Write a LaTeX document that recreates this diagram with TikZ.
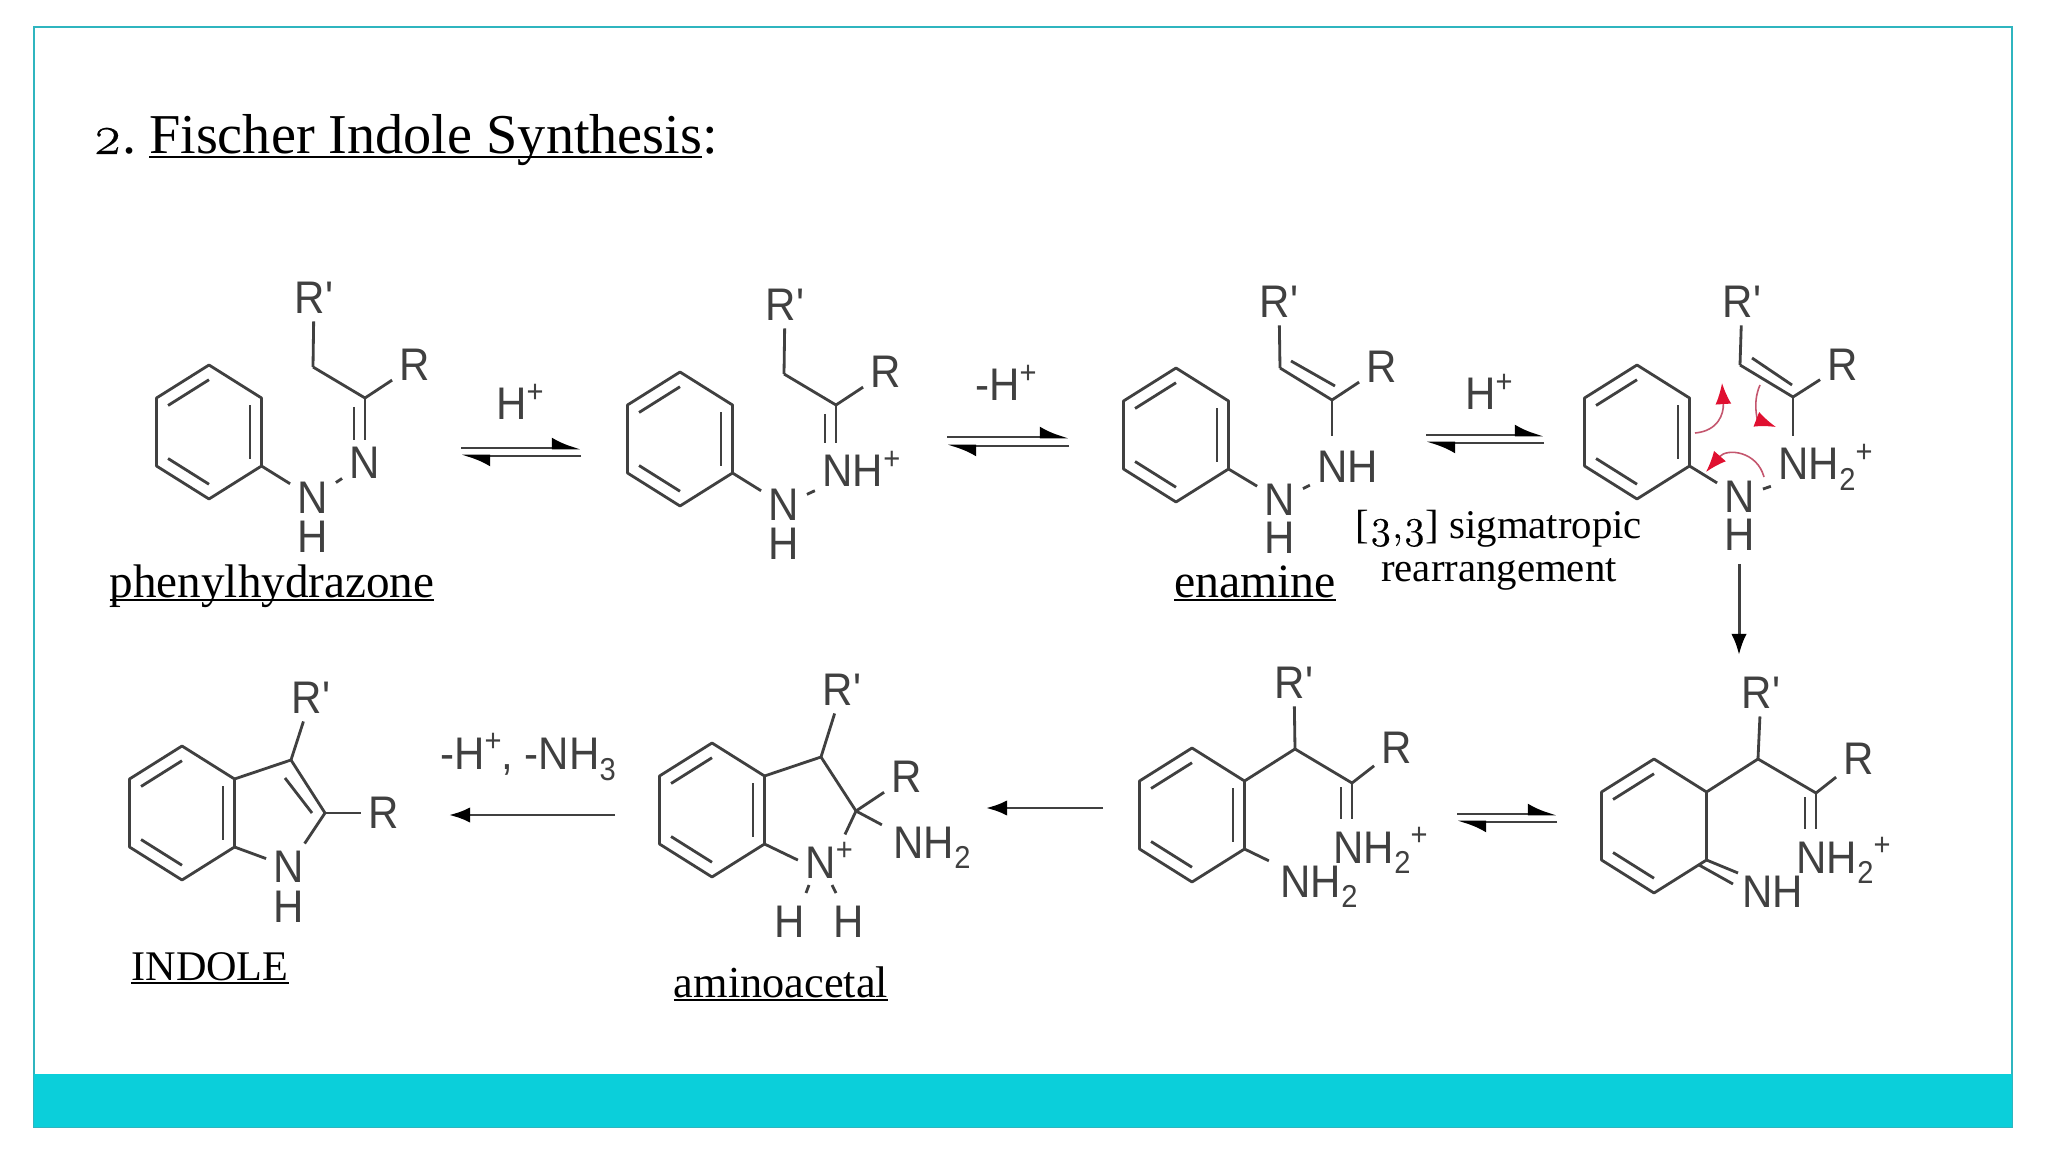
\documentclass[tikz,border=0pt]{standalone}
\usepackage{fontspec}
\setmainfont{Liberation Serif}
\newfontfamily\numfont[Numbers=OldStyle,FakeBold=0.3]{Latin Modern Roman}
\newfontfamily\chemfont[FakeStretch=0.92]{Liberation Sans}
\usepackage{tikz}
\usetikzlibrary{calc, positioning, arrows.meta}

\definecolor{framecol}{HTML}{2FB5BF}
\definecolor{barcol}{HTML}{0BCFDA}
\definecolor{bondcol}{HTML}{404040}
\definecolor{pushcol}{HTML}{C4566E}
\definecolor{tipcol}{HTML}{E01030}

\newcommand{\subt}[1]{\raisebox{-3pt}{\fontsize{9}{9}\selectfont #1}}
\newcommand{\supt}[1]{\raisebox{5pt}{\fontsize{9}{9}\selectfont #1}}
\newcommand{\ulword}[1]{\setbox0=\hbox{#1}\rlap{\rule[-1.2pt]{\wd0}{.6pt}}\box0}

\tikzset{
    atom/.style={font=\chemfont\fontsize{13}{14}\selectfont,text=bondcol,inner sep=2pt},
    atomleft/.style={atom,anchor=base west,xshift=-2.6pt},
    bond/.style={draw=bondcol,line width=.8pt,line join=round},
    reaction/.style={bondcol,line width=.85pt,-{Latex[length=6pt,width=4.4pt,black]}},
    eqfwd/.style={bondcol,line width=.75pt,-{Latex[length=7pt,width=6pt,harpoon,black]}},
    eqback/.style={bondcol,line width=.75pt,-{Latex[length=7pt,width=6pt,harpoon,black]}},
    pushing/.style={pushcol,line width=.45pt,-{Latex[length=6pt,width=4.5pt,tipcol]}},
    captiontext/.style={anchor=base,inner sep=0pt},
}

% ring: name, centre x, centre y
\newcommand{\benzring}[3]{
    \coordinate (#1o) at (#2,#3);
    \coordinate (#1a) at (#2,#3-67);
    \coordinate (#1b) at (#2+52.5,#3-34);
    \coordinate (#1c) at (#2+52.5,#3+34);
    \coordinate (#1d) at (#2,#3+67);
    \coordinate (#1e) at (#2-52.5,#3+34);
    \coordinate (#1f) at (#2-52.5,#3-34);
    \draw[bond] (#1a) -- (#1b) -- (#1c) -- (#1d) -- (#1e) -- (#1f) -- cycle;
    \draw[bond] ($(#1f)!.22!(#1o)$) -- ($(#1a)!.22!(#1o)$);
    \draw[bond] ($(#1e)!.22!(#1o)$) -- ($(#1d)!.22!(#1o)$);
}
\newcommand{\ringthird}[1]{
    \draw[bond] ($(#1b)!.22!(#1o)$) -- ($(#1c)!.22!(#1o)$);
}
% equilibrium arrows: name, left x, right x, upper y, lower y
\newcommand{\eqarrows}[5]{
    \coordinate (#1ul) at (#2,#4);
    \coordinate (#1ur) at (#3,#4);
    \coordinate (#1ll) at (#2,#5);
    \coordinate (#1lr) at (#3,#5);
    \draw[eqfwd] (#1ul) -- (#1ur);
    \draw[eqback] (#1lr) -- (#1ll);
}

\begin{document}
\begin{tikzpicture}[x=0.01cm,y=-0.01cm]
    \useasboundingbox (0,0) rectangle (2048,1152);
    \fill[white] (0,0) rectangle (2048,1152);

    % frame
    \coordinate (frameTL) at (34,27);
    \coordinate (frameBR) at (2012,1127);
    \coordinate (barTL) at (34,1074);
    \draw[framecol,line width=.6pt] (frameTL) rectangle (frameBR);
    \fill[barcol] (barTL) rectangle (frameBR);

    \node[font=\fontsize{16}{19}\selectfont,anchor=base west,inner sep=0pt](title) at (92,154){{\numfont 2}.\kern3.7pt\ulword{Fischer Indole Synthesis}:};

    % phenylhydrazone
    \benzring{ph}{209}{432}
    \ringthird{ph}
    \coordinate (phCa) at (313,367);
    \coordinate (phCb) at (365,398);
    \coordinate (phCc) at (354,407);
    \node[atom](phRp) at (314,298){R'};
    \node[atom](phR) at (415,365){R};
    \node[atom](phNa) at (365,463){N};
    \node[atom](phNb) at (313,498){N};
    \node[atom](phH) at (313,537){H};
    \path[bond]
    (phRp) edge (phCa)
    (phCa) edge (phCb)
    (phCb) edge (phR)
    (phCb) edge (phCb |- phNa.north)
    (phCc) edge (phCc |- phNa.north)
    (phc) edge (phNb)
    (phNb) edge (phNa);
    \node[captiontext,font=\fontsize{13.4}{15}\selectfont](phName) at (272,597){\ulword{phenylhydrazone}};

    % protonated
    \benzring{pr}{680}{439}
    \ringthird{pr}
    \coordinate (prCa) at (784,374);
    \coordinate (prCb) at (836,405);
    \coordinate (prCc) at (825,414);
    \node[atom](prRp) at (785,305){R'};
    \node[atom](prR) at (886,372){R};
    \node[atomleft](prNa) at (824,487){NH\supt{+}};
    \node[atom](prNb) at (784,505){N};
    \node[atom](prH) at (784,544){H};
    \path[bond]
    (prRp) edge (prCa)
    (prCa) edge (prCb)
    (prCb) edge (prR)
    (prCb) edge (prCb |- prNa.north)
    (prCc) edge (prCc |- prNa.north)
    (prc) edge (prNb)
    (prNb) edge (prNa);

    % enamine
    \benzring{en}{1176}{435}
    \ringthird{en}
    \coordinate (enCa) at (1280,368);
    \coordinate (enCb) at (1332,400);
    \coordinate (enCc) at (1291,361);
    \coordinate (enCd) at (1335,386);
    \node[atom](enRp) at (1279,302){R'};
    \node[atom](enR) at (1382,367){R};
    \node[atomleft](enNa) at (1319,482){NH};
    \node[atom](enNb) at (1280,500){N};
    \node[atom](enH) at (1280,538){H};
    \path[bond]
    (enRp) edge (enCa)
    (enCa) edge (enCb)
    (enCc) edge (enCd)
    (enCb) edge (enR)
    (enCb) edge ([yshift=2pt]enCb |- enNa.north)
    (enc) edge (enNb)
    (enNb) edge (enNa);
    \node[captiontext,font=\fontsize{13.6}{15}\selectfont](enName) at (1255,597){\ulword{enamine}};

    % before the rearrangement
    \benzring{sg}{1637}{432}
    \ringthird{sg}
    \coordinate (sgCa) at (1740,365);
    \coordinate (sgCb) at (1793,397);
    \coordinate (sgCc) at (1752,358);
    \coordinate (sgCd) at (1792,385);
    \node[atom](sgRp) at (1742,302){R'};
    \node[atom](sgR) at (1843,365){R};
    \node[atomleft](sgNa) at (1780,480){NH\subt{2}\supt{+}};
    \node[atom](sgNb) at (1740,497){N};
    \node[atom](sgH) at (1740,535){H};
    \path[bond]
    (sgRp) edge (sgCa)
    (sgCa) edge (sgCb)
    (sgCc) edge (sgCd)
    (sgCb) edge (sgR)
    (sgCb) edge (sgCb |- sgNa.north)
    (sgc) edge (sgNb)
    (sgNb) edge (sgNa);
    \coordinate (pushAa) at (1695,433);
    \coordinate (pushAb) at (1722,383);
    \coordinate (pushBa) at (1760,385);
    \coordinate (pushBb) at (1776,427);
    \coordinate (pushCa) at (1764,477);
    \coordinate (pushCb) at (1706,472);
    \draw[pushing] (pushAa) .. controls (1718,431) and (1724,414) .. (pushAb);
    \draw[pushing] (pushBa) .. controls (1752,403) and (1758,420) .. (pushBb);
    \draw[pushing] (pushCa) .. controls (1757,451) and (1727,448) .. (pushCb);

    \node[font=\fontsize{11.6}{12.3}\selectfont,align=center,inner sep=0pt](shift) at (1499,550){[{\numfont 3,3}] sigmatropic\\rearrangement};

    % second row, right to left
    \benzring{di}{1654}{826}
    \coordinate (diCa) at (1758,759);
    \coordinate (diCb) at (1816,793);
    \coordinate (diCc) at (1805,797);
    \coordinate (diDa) at (1733,884);
    \coordinate (diDb) at (1699,865);
    \coordinate (diDc) at (1738,873);
    \node[atom](diRp) at (1761,693){R'};
    \node[atom](diR) at (1859,759){R};
    \node[atomleft](diNa) at (1798,873){NH\subt{2}\supt{+}};
    \node[atomleft](diNb) at (1744,907){NH};
    \path[bond]
    (diRp) edge (diCa)
    (dib) edge (diCa)
    (diCa) edge (diCb)
    (diCb) edge (diR)
    (diCb) edge (diCb |- diNa.north)
    (diCc) edge (diCc |- diNa.north)
    (dic) edge (diDc)
    (diDb) edge (diDa);

    \benzring{an}{1192}{815}
    \ringthird{an}
    \coordinate (anCa) at (1295,749);
    \coordinate (anCb) at (1352,783);
    \coordinate (anCc) at (1341,787);
    \node[atom](anRp) at (1294,683){R'};
    \node[atom](anR) at (1397,748){R};
    \node[atomleft](anNa) at (1335,863){NH\subt{2}\supt{+}};
    \node[atomleft](anNb) at (1282,897){NH\subt{2}};
    \path[bond]
    (anRp) edge (anCa)
    (anb) edge (anCa)
    (anCa) edge (anCb)
    (anCb) edge (anR)
    (anCb) edge (anCb |- anNa.north)
    (anCc) edge (anCc |- anNa.north)
    (anc) edge ([shift={(-4,3)}]anNb.north west);

    % aminoacetal
    \benzring{aa}{712}{810}
    \ringthird{aa}
    \coordinate (aaCa) at (821,757);
    \coordinate (aaCb) at (856,811);
    \coordinate (aaDa) at (809,885);
    \coordinate (aaDb) at (806,893);
    \coordinate (aaDc) at (832,885);
    \coordinate (aaDd) at (836,893);
    \node[atom](aaRp) at (842,690){R'};
    \node[atom](aaR) at (907,777){R};
    \node[atomleft](aaNa) at (895,858){NH\subt{2}};
    \node[atomleft](aaNb) at (807,878){N\supt{+}};
    \node[atom](aaHa) at (790,922){H};
    \node[atom](aaHb) at (849,922){H};
    \path[bond]
    (aaRp) edge (aaCa)
    (aab) edge (aaCa)
    (aaCa) edge (aaCb)
    (aaCb) edge (aaR)
    (aaCb) edge ([shift={(-4,6)}]aaNa.north west)
    (aaCb) edge ($(aaNb.north)!.5!(aaNb.north east)$)
    (aac) edge (aaNb.west)
    (aaDa) edge (aaDb)
    (aaDc) edge (aaDd);
    \node[captiontext,font=\fontsize{12.6}{15}\selectfont](aaName) at (781,997){\ulword{aminoacetal}};

    % indole
    \benzring{ind}{182}{813}
    \ringthird{ind}
    \coordinate (indCa) at (291,760);
    \coordinate (indCb) at (325,813);
    \coordinate (indCc) at (285,778);
    \coordinate (indCd) at (312,813);
    \node[atom](indRp) at (311,698){R'};
    \node[atom](indR) at (384,813){R};
    \node[atom](indN) at (289,867){N};
    \node[atom](indH) at (289,907){H};
    \path[bond]
    (indRp) edge (indCa)
    (indb) edge (indCa)
    (indCa) edge (indCb)
    (indCc) edge (indCd)
    (indCb) edge (indR)
    (indCb) edge (indN)
    (indc) edge (indN);
    \node[captiontext,font=\fontsize{12}{15}\selectfont](indName) at (210,980){\ulword{INDOLE}};

    % arrows
    \eqarrows{eqa}{461}{581}{448}{456}
    \node[atom](eqaLabel) at (520,402){H\supt{+}};
    \eqarrows{eqb}{947}{1069}{437}{446}
    \node[atom](eqbLabel) at (1006,383){-H\supt{+}};
    \eqarrows{eqc}{1426}{1544}{435}{443}
    \node[atom](eqcLabel) at (1489,392){H\supt{+}};
    \eqarrows{eqd}{1457}{1557}{814}{822}
    \coordinate (downTop) at (1739,564);
    \coordinate (downEnd) at (1739,655);
    \draw[reaction] (downTop) -- (downEnd);
    \coordinate (leftATop) at (1103,808);
    \coordinate (leftAEnd) at (986,808);
    \draw[reaction] (leftATop) -- (leftAEnd);
    \coordinate (leftBTop) at (615,815);
    \coordinate (leftBEnd) at (449,815);
    \draw[reaction] (leftBTop) -- (leftBEnd);
    \node[atom](leftBLabel) at (528,757){-H\supt{+}, -NH\subt{3}};
\end{tikzpicture}
\end{document}
